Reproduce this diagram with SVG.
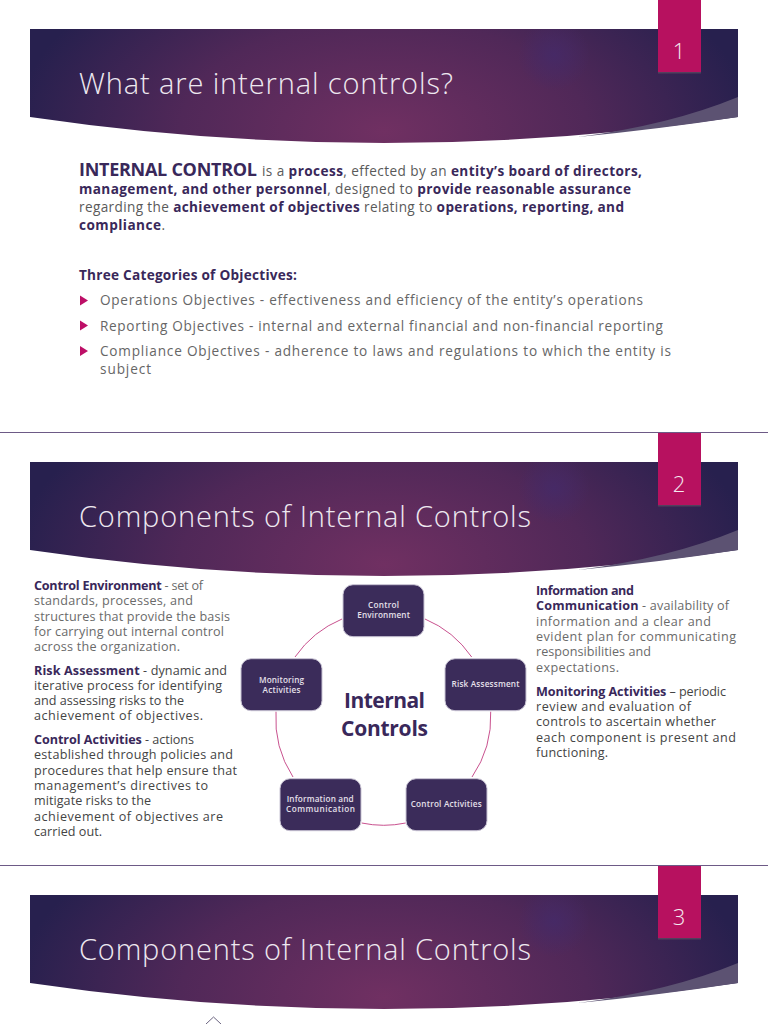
<svg xmlns="http://www.w3.org/2000/svg" width="768" height="1024" viewBox="0 0 768 1024">
<style>
text{font-family:"Open Sans","Liberation Sans",sans-serif;font-variant-ligatures:none}
.t{fill:#5a5a5a;font-size:13.6px}
.b{fill:#39285a;font-weight:700}
.h{fill:#eee8f0;font-size:29px;font-weight:300}
.n{fill:#f4e9f0;font-size:22px;font-weight:300;text-anchor:middle}
.g{fill:#666;font-size:13.6px}
.l{fill:#6a6a6a;font-size:12.6px}
.d{fill:#444}
.nl{fill:#e6e0ea;font-size:8.2px;font-weight:600}
.node{fill:#3b2c5a;stroke:#c9c4d4;stroke-width:1}
.c{fill:none;stroke:#c9528f;stroke-width:1}
.cap{fill:#b7115f}
.sw{fill:#5c5272}
.bn{fill:#bd0f67}
.shadow{fill:#6b5a68;opacity:.55}
</style>
<defs>
<radialGradient id="bg" gradientUnits="userSpaceOnUse" cx="384" cy="130" r="370" gradientTransform="translate(0 60) scale(1 .55)">
<stop offset="0" stop-color="#703062"/><stop offset=".55" stop-color="#502858"/><stop offset="1" stop-color="#27204e"/>
</radialGradient>
<radialGradient id="glow"><stop offset="0" stop-color="#452a68" stop-opacity=".85"/><stop offset=".6" stop-color="#452a68" stop-opacity=".35"/><stop offset="1" stop-color="#452a68" stop-opacity="0"/></radialGradient>
<clipPath id="bc"><path d="M30 29H738V117Q384 169 30 117Z"/></clipPath>
<g id="banner">
<path d="M30 29H738V117Q384 169 30 117Z" fill="url(#bg)"/>
<circle cx="554" cy="55" r="36" fill="url(#glow)" clip-path="url(#bc)"/>
<path d="M738 97V117Q660 129 578 137Q670 125 738 97Z" class="sw"/>
</g>
</defs>
<rect width="768" height="1024" fill="#fff"/>
<line x1="0" y1="432.500" x2="768" y2="432.500" stroke="#6d5a86"/>
<line x1="0" y1="865.500" x2="768" y2="865.500" stroke="#6d5a86"/>

<g id="slide1-banner">
<use href="#banner"/>
<rect class="shadow" x="658" y="72" width="43" height="1.500"/>
<rect class="cap" x="658" y="0" width="43" height="72"/>
<text class="n" x="679" y="59">1</text>
<text class="h" x="79" y="94" textLength="374">What are internal controls?</text>
</g>
<g id="slide1-text">
<text x="79" y="175.500" class="b" font-size="18" textLength="178">INTERNAL CONTROL</text>
<text class="t" x="262" y="176" textLength="380">is a <tspan class="b">process</tspan>, effected by an <tspan class="b">entity’s board of directors,</tspan></text>
<text class="t" x="79" y="194" textLength="552"><tspan class="b">management, and other personnel</tspan>, designed to <tspan class="b">provide reasonable assurance</tspan></text>
<text class="t" x="79" y="211.500" textLength="545">regarding the <tspan class="b">achievement of objectives</tspan> relating to <tspan class="b">operations, reporting, and</tspan></text>
<text class="t" x="79" y="229.500" textLength="86"><tspan class="b">compliance</tspan>.</text>
<text class="t b" x="79" y="280" textLength="218">Three Categories of Objectives:</text>
<path class="bn" d="M80 295.500L88 300.500L80 305.500ZM80 320.500L88 325.500L80 330.500ZM80 346L88 351L80 356Z"/>
<text class="g" x="100" y="305" textLength="543">Operations Objectives - effectiveness and efficiency of the entity’s operations</text>
<text class="g" x="100" y="330.500" textLength="563">Reporting Objectives - internal and external financial and non-financial reporting</text>
<text class="g" x="100" y="356" textLength="571">Compliance Objectives - adherence to laws and regulations to which the entity is</text>
<text class="g" x="100" y="373.500" textLength="51">subject</text>
</g>

<g id="slide2-banner">
<use href="#banner" y="433"/>
<rect class="shadow" x="658" y="505" width="43" height="1.500"/>
<rect class="cap" x="658" y="433" width="43" height="72"/>
<text class="n" x="679" y="492">2</text>
<text class="h" x="79" y="527" textLength="452">Components of Internal Controls</text>
</g>
<g id="slide2-left">
<text class="l" x="34" y="590" textLength="169"><tspan class="b">Control Environment</tspan> - set of</text>
<text class="l" x="34" y="605" textLength="159">standards, processes, and</text>
<text class="l" x="34" y="620.500" textLength="196">structures that provide the basis</text>
<text class="l" x="34" y="636" textLength="190">for carrying out internal control</text>
<text class="l" x="34" y="651" textLength="146">across the organization.</text>
<text class="l d" x="34" y="675" textLength="193"><tspan class="b">Risk Assessment</tspan> - dynamic and</text>
<text class="l d" x="34" y="690" textLength="188">iterative process for identifying</text>
<text class="l d" x="34" y="705" textLength="150">and assessing risks to the</text>
<text class="l d" x="34" y="720" textLength="169">achievement of objectives.</text>
<text class="l d" x="34" y="744" textLength="160"><tspan class="b">Control Activities</tspan> - actions</text>
<text class="l d" x="34" y="759" textLength="199">established through policies and</text>
<text class="l d" x="34" y="774.500" textLength="203">procedures that help ensure that</text>
<text class="l d" x="34" y="790" textLength="174">management’s directives to</text>
<text class="l d" x="34" y="805" textLength="117">mitigate risks to the</text>
<text class="l d" x="34" y="820.500" textLength="189">achievement of objectives are</text>
<text class="l d" x="34" y="836" textLength="68">carried out.</text>
</g>
<g id="slide2-right">
<text class="l" x="536" y="595" textLength="98"><tspan class="b">Information and</tspan></text>
<text class="l" x="536" y="610" textLength="193"><tspan class="b">Communication</tspan> - availability of</text>
<text class="l" x="536" y="625.500" textLength="175">information and a clear and</text>
<text class="l" x="536" y="641" textLength="200">evident plan for communicating</text>
<text class="l" x="536" y="656" textLength="115">responsibilities and</text>
<text class="l" x="536" y="672" textLength="83">expectations.</text>
<text class="l d" x="536" y="695.500" textLength="190"><tspan class="b">Monitoring Activities</tspan> – periodic</text>
<text class="l d" x="536" y="711" textLength="155">review and evaluation of</text>
<text class="l d" x="536" y="726" textLength="180">controls to ascertain whether</text>
<text class="l d" x="536" y="741.500" textLength="200">each component is present and</text>
<text class="l d" x="536" y="757" textLength="72">functioning.</text>
</g>
<g id="connectors">
<path class="c" d="M425 619A107.300 107.300 0 0 1 471.700 657"/>
<path class="c" d="M490.700 711.700A107.300 107.300 0 0 1 472 777"/>
<path class="c" d="M405.700 823A107.300 107.300 0 0 1 361.700 823"/>
<path class="c" d="M293 777A107.300 107.300 0 0 1 276 711.700"/>
<path class="c" d="M295 657A107.300 107.300 0 0 1 342 619"/>
</g>
<g id="node-control-environment">
<rect class="node" x="343" y="584.700" width="81" height="52" rx="10"/>
<text class="nl" x="368" y="608" textLength="31">Control</text><text class="nl" x="357.200" y="618" textLength="52.700">Environment</text>
</g>
<g id="node-risk-assessment">
<rect class="node" x="445" y="658.700" width="81" height="52" rx="10"/>
<text class="nl" x="451.500" y="687" textLength="68">Risk Assessment</text>
</g>
<g id="node-control-activities">
<rect class="node" x="406" y="778.700" width="81" height="52" rx="10"/>
<text class="nl" x="410.700" y="807" textLength="71">Control Activities</text>
</g>
<g id="node-information">
<rect class="node" x="280" y="778.700" width="81" height="52" rx="10"/>
<text class="nl" x="286.700" y="802" textLength="67">Information and</text><text class="nl" x="286" y="812" textLength="69">Communication</text>
</g>
<g id="node-monitoring">
<rect class="node" x="241" y="658.700" width="81" height="52" rx="10"/>
<text class="nl" x="259" y="682.500" textLength="45">Monitoring</text><text class="nl" x="262.500" y="692.500" textLength="38">Activities</text>
</g>
<text x="344" y="708" class="b" font-size="21" textLength="81">Internal</text>
<text x="341" y="735.500" class="b" font-size="21" textLength="87">Controls</text>

<g id="slide3-banner">
<use href="#banner" y="866"/>
<rect class="shadow" x="658" y="938" width="43" height="1.500"/>
<rect class="cap" x="658" y="866" width="43" height="72"/>
<text class="n" x="679" y="925">3</text>
<text class="h" x="79" y="960" textLength="452">Components of Internal Controls</text>
</g>
<path d="M206 1024L213.500 1017L221 1024" fill="none" stroke="#6b6480"/>
</svg>
